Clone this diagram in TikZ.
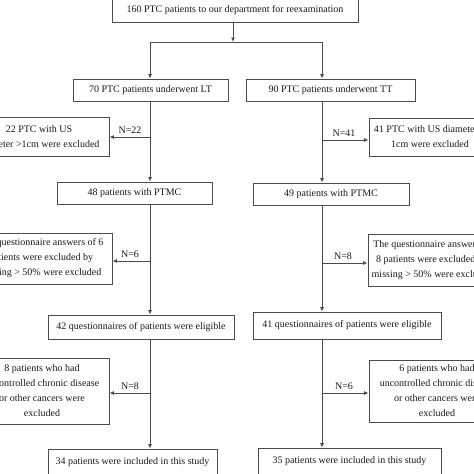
\documentclass[tikz,border=0pt]{standalone}
\usepackage{fontspec}
\setmainfont{Liberation Serif}
\usetikzlibrary{arrows.meta}
\begin{document}
\begin{tikzpicture}[x=1pt,y=-1pt,
  box/.style={draw=black!70,line width=0.9pt,inner sep=0pt,align=center,
    font=\fontsize{10}{15}\selectfont,text=black!90},
  arr/.style={draw=black!70,line width=0.9pt,-{Latex[length=4.5pt,width=4pt]}},
  ln/.style={draw=black!70,line width=0.9pt},
  lab/.style={font=\fontsize{10}{12}\selectfont,text=black!90}]
\useasboundingbox (0,0) rectangle (474,474);
\clip (0,0) rectangle (474,474);
% main boxes
\node[box,minimum width=246pt,minimum height=24pt] (top) at (235,10) {160 PTC patients to our department for reexamination};
\node[box,minimum width=155pt,minimum height=22pt] (lt) at (150.5,90) {70 PTC patients underwent LT};
\node[box,minimum width=169pt,minimum height=22pt] (tt) at (330.5,90) {90 PTC patients underwent TT};
\node[box,minimum width=155pt,minimum height=22pt] (ptmcL) at (134.5,193) {48 patients with PTMC};
\node[box,minimum width=156pt,minimum height=22pt] (ptmcR) at (331,194) {49 patients with PTMC};
\node[box,minimum width=186pt,minimum height=24pt] (q42) at (141,327) {42 questionnaires of patients were eligible};
\node[box,minimum width=188pt,minimum height=27pt] (q41) at (347,325.5) {41 questionnaires of patients were eligible};
\node[box,minimum width=169pt,minimum height=26pt] (inc34) at (132.5,462) {34 patients were included in this study};
\node[box,minimum width=183pt,minimum height=26pt] (inc35) at (349.5,461) {35 patients were included in this study};
% exclusion boxes
\node[box,minimum width=140pt,minimum height=39pt] (exL1) at (39,136.5) {22 PTC with US\\diameter >1cm were excluded};
\node[box,minimum width=122pt,minimum height=38pt] (exR1) at (430,137) {41 PTC with US diameter >\\1cm were excluded};
\node[box,minimum width=142pt,minimum height=51pt] (exL2) at (41,258.5) {The questionnaire answers of 6\\patients were excluded by\\missing > 50\% were excluded};
\node[box,minimum width=128pt,minimum height=52pt] (exR2) at (432,260) {The questionnaire answers of\\8 patients were excluded by\\missing > 50\% were excluded};
\node[box,minimum width=134pt,minimum height=66pt] (exL3) at (42,391) {8 patients who had\\uncontrolled chronic disease\\or other cancers were\\excluded};
\node[box,minimum width=136pt,minimum height=62pt] (exR3) at (437,391) {6 patients who had\\uncontrolled chronic disease\\or other cancers were\\excluded};
% split
\coordinate (split) at (233,42);
\coordinate (cL) at (150,42);
\coordinate (cR) at (322,42);
\draw[arr] (top.south -| split) -- (split);
\draw[ln] (cL) -- (cR);
\draw[arr] (cL) -- (lt.north -| cL);
\draw[arr] (cR) -- (tt.north -| cR);
% left spine
\coordinate (bL1) at (150,137);
\coordinate (bL2) at (150,261);
\coordinate (bL3) at (150,393);
\draw[arr] (lt.south -| cL) -- (ptmcL.north -| cL);
\draw[arr] (bL1) -- (exL1.east |- bL1);
\node[lab,above] (nL1) at (130,137) {N=22};
\draw[arr] (ptmcL.south -| cL) -- (q42.north -| cL);
\draw[arr] (bL2) -- (exL2.east |- bL2);
\node[lab,above] (nL2) at (130,261) {N=6};
\draw[arr] (q42.south -| cL) -- (inc34.north -| cL);
\draw[arr] (bL3) -- (exL3.east |- bL3);
\node[lab,above] (nL3) at (130,393) {N=8};
% right spine
\coordinate (bR1) at (322,140);
\coordinate (bR2) at (322,263);
\coordinate (bR3) at (322,393);
\draw[arr] (tt.south -| cR) -- (ptmcR.north -| cR);
\draw[arr] (bR1) -- (exR1.west |- bR1);
\node[lab,above] (nR1) at (344,140) {N=41};
\draw[arr] (ptmcR.south -| cR) -- (q41.north -| cR);
\draw[arr] (bR2) -- (exR2.west |- bR2);
\node[lab,above] (nR2) at (343,263) {N=8};
\draw[arr] (q41.south -| cR) -- (inc35.north -| cR);
\draw[arr] (bR3) -- (exR3.west |- bR3);
\node[lab,above] (nR3) at (344,393) {N=6};
\end{tikzpicture}
\end{document}
